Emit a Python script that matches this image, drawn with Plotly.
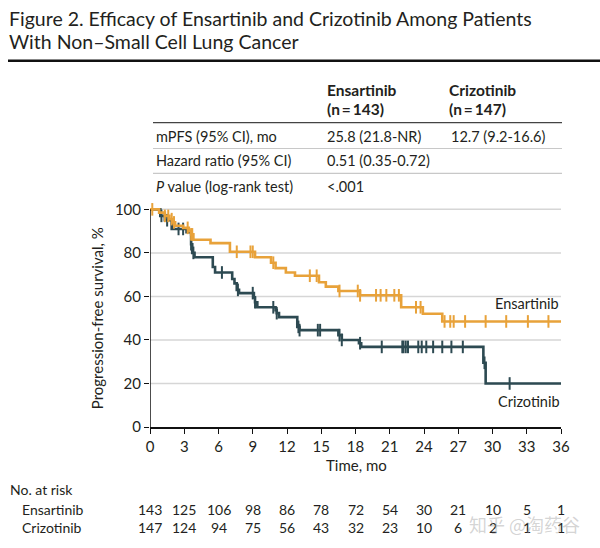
import plotly.graph_objects as go
import numpy as np

# ---------------- data ----------------
ens_t = [0, 0.8, 1.3, 1.7, 2.0, 2.2, 2.9, 3.4, 3.6, 3.8, 5.3, 7.0, 9.2, 10.6, 11.0, 11.9,
         12.7, 14.8, 15.4, 16.5, 18.4, 22.0, 23.9, 25.6, 36]
ens_s = [100, 98.5, 97, 95.5, 94, 92.5, 91.5, 90, 88.5, 86, 84.5, 80.5, 78, 75.5, 73, 71,
         69.5, 66.5, 64.5, 62.5, 60.5, 55, 52, 48.5, 48.5]
ens_cens = [0.2, 1.3, 1.6, 1.9, 2.1, 3.3, 3.6, 3.7, 7.6, 8.8, 9.0, 10.8, 14.0, 14.6, 16.6,
            18.2, 18.4, 19.8, 20.2, 20.7, 21.4, 21.8, 23.3, 23.7, 25.8, 26.3, 26.6, 27.6,
            29.4, 31.2, 33.1, 34.9]

criz_t = [0, 0.9, 1.3, 1.9, 3.2, 3.6, 3.7, 3.9, 5.5, 5.7, 7.2, 7.4, 7.6, 7.8, 9.1, 9.2, 9.4,
          11.0, 11.1, 11.3, 12.9, 13.1, 16.5, 16.8, 18.3, 18.5, 29.2, 29.4, 36]
criz_s = [100, 97, 95, 91, 89.5, 84, 80, 78, 73.5, 71, 68, 66, 63, 61.5, 59.5, 57.3, 55,
          53.7, 52.3, 50.5, 46, 44.5, 42.2, 40, 38.5, 36.8, 29.5, 20, 20]
criz_cens = [1.0, 1.5, 2.5, 2.9, 3.6, 3.8, 6.3, 7.7, 9.0, 9.2, 10.8, 11.1, 13.0, 13.1, 14.7,
             14.9, 16.6, 16.8, 18.4, 20.3, 22.1, 22.2, 22.4, 22.6, 23.5, 23.8, 24.2, 24.8,
             25.6, 26.4, 27.4, 29.3, 31.5]

risk_times = [0, 3, 6, 9, 12, 15, 18, 21, 24, 27, 30, 33, 36]
risk_ens = [143, 125, 106, 98, 86, 78, 72, 54, 30, 21, 10, 5, 1]
risk_criz = [147, 124, 94, 75, 56, 43, 32, 23, 10, 6, 2, 1, 1]

y_ticks = [0, 20, 40, 60, 80, 100]

ORANGE = "#E8A23A"
DARK = "#2D4A52"
FONT = "Lato"
TXT = "#231f20"

# ---------------- geometry helpers (pixel -> paper) ----------------
W, Hh = 600, 548
L, R = 150, 561          # plot x pixels
Y0, YTOP = 427, 204.6    # y=0 pixel, top of plot pixel
YMAX = 102
PW, PH = R - L, Y0 - YTOP


def px(X):
    return (X - L) / PW


def py(Y):
    return (Y0 - Y) / PH


def step_val(ts, ss, t):
    idx = np.searchsorted(np.array(ts), t, side="right") - 1
    return ss[max(idx, 0)]


fig = go.Figure()

for ts, ss, cens, col in [(criz_t, criz_s, criz_cens, DARK), (ens_t, ens_s, ens_cens, ORANGE)]:
    fig.add_trace(go.Scatter(x=ts, y=ss, mode="lines", line=dict(color=col, width=2.6, shape="hv"),
                             hoverinfo="skip", showlegend=False))
    fig.add_trace(go.Scatter(x=cens, y=[step_val(ts, ss, c) for c in cens], mode="markers",
                             marker=dict(symbol="line-ns-open", size=9, color=col,
                                         line=dict(color=col, width=2)),
                             hoverinfo="skip", showlegend=False, cliponaxis=False))

ann = []


def text(X, Y, s, size=14, anchor="left", bold=False, color=TXT, family=FONT, angle=0):
    ann.append(dict(xref="paper", yref="paper", x=px(X), y=py(Y), text=s, showarrow=False,
                    xanchor=anchor, yanchor="middle", textangle=angle,
                    font=dict(family=family, size=size, color=color,
                              weight=("bold" if bold else "normal"))))


# title
text(7, 18, "Figure 2. Efficacy of Ensartinib and Crizotinib Among Patients", size=19.5)
text(7, 41, "With Non–Small Cell Lung Cancer", size=19.5)

# table
text(325, 89, "Ensartinib", size=15.5, bold=True)
text(325, 108, "(n\u2009=\u2009143)", size=15.5, bold=True)
text(447, 89, "Crizotinib", size=15.5, bold=True)
text(447, 108, "(n\u2009=\u2009147)", size=15.5, bold=True)
text(154, 136, "mPFS (95% CI), mo", size=14.5)
text(325, 136, "25.8 (21.8-NR)", size=14.5)
text(449, 136, "12.7 (9.2-16.6)", size=14.5)
text(154, 160, "Hazard ratio (95% CI)", size=14.5)
text(325, 160, "0.51 (0.35-0.72)", size=14.5)
text(154, 186, "<i>P</i> value (log-rank test)", size=14.5)
text(325, 186, "<.001", size=14.5)

# axis titles
text(97, 318, "Progression-free survival, %", size=15, anchor="center", angle=-90)
text(356, 465, "Time, mo", size=15, anchor="center")

# curve labels
text(561, 303, "Ensartinib", size=14.5, anchor="right")
text(562, 401, "Crizotinib", size=14.5, anchor="right")

# number at risk
text(8, 490, "No. at risk", size=14)
text(20, 510, "Ensartinib", size=14)
text(20, 528, "Crizotinib", size=14)
for t, a, b in zip(risk_times, risk_ens, risk_criz):
    X = L + t / 36 * PW
    text(X, 510, str(a), size=14, anchor="center")
    text(X, 528, str(b), size=14, anchor="center")

# watermark (semi-transparent, as in the reference)
text(524, 524, "知乎 @淘药谷", size=18, anchor="center", color="rgba(160,160,160,0.45)",
     family="Noto Sans CJK SC")

shapes = [
    dict(type="line", xref="paper", yref="paper", x0=px(8), x1=px(600), y0=py(60), y1=py(60),
         line=dict(color="#111", width=2.5)),
    dict(type="line", xref="paper", yref="paper", x0=px(153), x1=px(562), y0=py(122), y1=py(122),
         line=dict(color="#444", width=1.2)),
    dict(type="line", xref="paper", yref="paper", x0=px(153), x1=px(562), y0=py(148), y1=py(148),
         line=dict(color="#c8c8c8", width=1.2)),
    dict(type="line", xref="paper", yref="paper", x0=px(153), x1=px(562), y0=py(173), y1=py(173),
         line=dict(color="#c8c8c8", width=1.2)),
]
for yv in [20, 40, 60, 80, 100]:
    shapes.append(dict(type="line", xref="x", yref="y", x0=0, x1=36, y0=yv, y1=yv, layer="below",
                       line=dict(color="#d6d6d6", width=1.5)))
shapes.append(dict(type="line", xref="x", yref="y", x0=0, x1=0, y0=0, y1=100,
                   line=dict(color="#111", width=1.5)))

fig.update_layout(
    width=W, height=Hh,
    margin=dict(l=L, r=W - R, t=YTOP, b=Hh - Y0),
    plot_bgcolor="white", paper_bgcolor="white",
    annotations=ann, shapes=shapes,
    xaxis=dict(range=[0, 36], tickvals=risk_times, ticks="outside", ticklen=5, tickwidth=1.2,
               tickcolor="#111", showline=True, linecolor="#111", linewidth=1.5, showgrid=False,
               zeroline=False, tickfont=dict(family=FONT, size=15, color=TXT)),
    yaxis=dict(range=[0, YMAX], tickvals=y_ticks, ticks="outside", ticklen=5, tickwidth=1.2,
               tickcolor="#111", showline=False, showgrid=False, zeroline=False,
               tickfont=dict(family=FONT, size=15, color=TXT)),
)

fig.write_html("out.html")
